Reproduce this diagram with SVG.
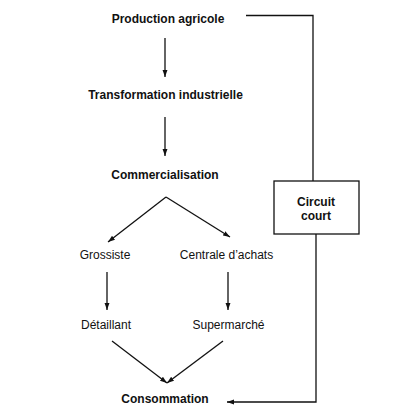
<svg xmlns="http://www.w3.org/2000/svg" width="407" height="416" viewBox="0 0 407 416">
<style>
text{font-family:"Liberation Sans",Arial,sans-serif;font-size:12px;fill:#111;text-anchor:middle}
.b{font-weight:bold}
.ln{stroke:#111;stroke-width:1.3;fill:none}
</style>
<defs>
<marker id="ah" viewBox="0 0 10 10" refX="10" refY="5" markerWidth="7" markerHeight="7" markerUnits="userSpaceOnUse" orient="auto">
<path d="M0,1.5 L10,5 L0,8.5 z" fill="#111"/>
</marker>
</defs>
<rect width="407" height="416" fill="#fff"/>
<g id="connectors">
<line class="ln" x1="165" y1="38" x2="165" y2="77" marker-end="url(#ah)"/>
<line class="ln" x1="165" y1="117" x2="165" y2="156" marker-end="url(#ah)"/>
<line class="ln" x1="166" y1="197" x2="108" y2="242" marker-end="url(#ah)"/>
<line class="ln" x1="166" y1="197" x2="230" y2="237" marker-end="url(#ah)"/>
<line class="ln" x1="107" y1="272" x2="107" y2="310" marker-end="url(#ah)"/>
<line class="ln" x1="228" y1="272" x2="228" y2="310" marker-end="url(#ah)"/>
<line class="ln" x1="112" y1="341" x2="167" y2="383" marker-end="url(#ah)"/>
<line class="ln" x1="223" y1="341" x2="167" y2="383" marker-end="url(#ah)"/>
<polyline class="ln" points="246,15.5 313,15.5 313,181"/>
<polyline class="ln" points="316,234 316,402 227,402" marker-end="url(#ah)"/>
</g>
<g id="production"><text class="b" x="168" y="23">Production agricole</text></g>
<g id="transformation"><text class="b" x="165.5" y="99">Transformation industrielle</text></g>
<g id="commercialisation"><text class="b" x="165" y="179">Commercialisation</text></g>
<g id="grossiste"><text x="105" y="259">Grossiste</text></g>
<g id="centrale"><text x="226.5" y="259">Centrale d’achats</text></g>
<g id="detaillant"><text x="106" y="329">Détaillant</text></g>
<g id="supermarche"><text x="228.5" y="329">Supermarché</text></g>
<g id="consommation"><text class="b" x="165" y="403">Consommation</text></g>
<g id="circuit-court">
<rect x="274" y="181" width="85" height="53" fill="#fff" stroke="#111" stroke-width="1.3"/>
<text class="b" x="316" y="206">Circuit</text>
<text class="b" x="316" y="220">court</text>
</g>
</svg>
